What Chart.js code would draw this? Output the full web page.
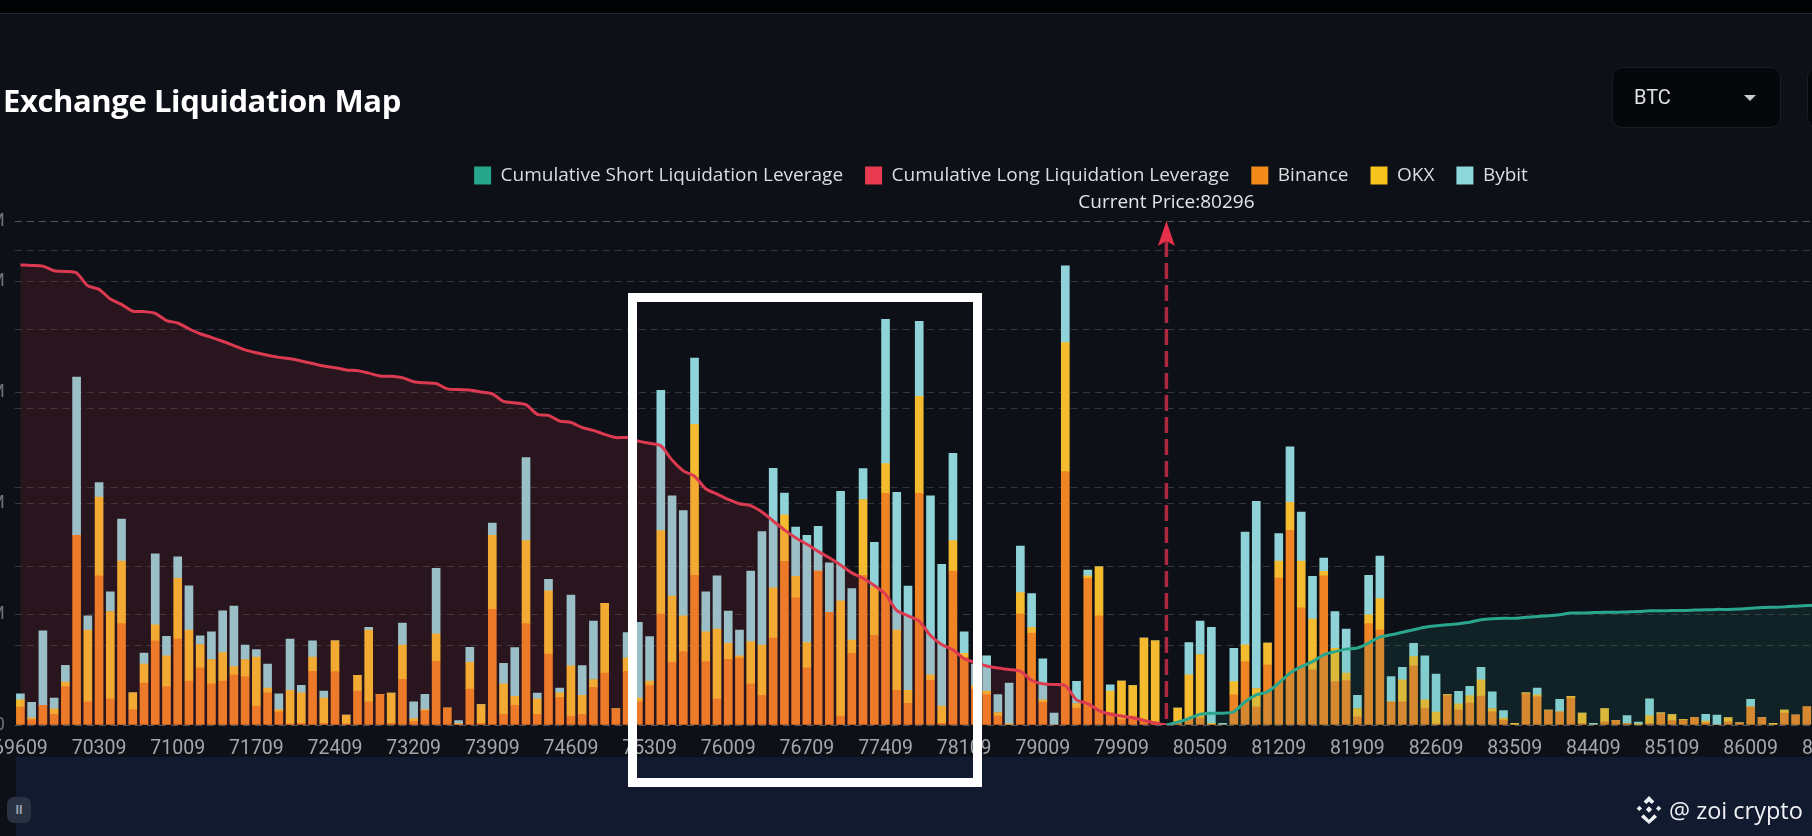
<!DOCTYPE html>
<html><head><meta charset="utf-8">
<script src="https://cdn.jsdelivr.net/npm/chart.js@4"></script>
<style>
html,body{margin:0;padding:0;width:1812px;height:836px;overflow:hidden;background:#0d1017;font-family:"Open Sans",sans-serif}
#wrap{position:relative;width:1812px;height:836px;overflow:hidden}
#topbar{position:absolute;left:0;top:0;width:100%;height:13px;background:#020305;border-bottom:1px solid #23262c}
#strip{position:absolute;left:16px;right:0;top:757px;height:79px;background:#111a2e}
canvas{position:absolute;left:-18.6px;top:0}
#title{position:absolute;left:3px;top:78px;font-size:31px;font-weight:700;color:#fff;line-height:44px;letter-spacing:-.4px;white-space:nowrap}
#sel{position:absolute;left:1613px;top:68px;width:167px;height:59px;background:#06070b;border-radius:9px;box-shadow:0 0 0 1px #181b22;color:#dfe1e6;font:20px Roboto,sans-serif;line-height:59px;text-indent:21px}
#sel i{position:absolute;left:131px;top:27px;width:0;height:0;border-left:6px solid transparent;border-right:6px solid transparent;border-top:6px solid #c9ccd2}
#sel2{position:absolute;left:1808px;top:68px;width:40px;height:59px;background:#06070b;border-radius:9px;box-shadow:0 0 0 1px #181b22}
#frame{position:absolute;left:628px;top:293px;width:336px;height:476px;border:9px solid #fff;pointer-events:none}
#pause{position:absolute;left:7px;top:797px;width:24px;height:26px;border-radius:7px;background:#2a3143;color:#9ea4b2;font:700 12px Roboto;line-height:26px;text-align:center}
#wm{position:absolute;left:1634px;top:790px;height:40px;display:flex;align-items:center;color:#eef0f3;font-size:23.5px;white-space:nowrap}
#wm svg{margin-right:5px}
</style></head>
<body><div id="wrap">
<div id="strip"></div>
<canvas id="c" width="2040" height="836"></canvas>
<div id="topbar"></div>
<div id="title">Exchange Liquidation Map</div>
<div id="sel">BTC<i></i></div><div id="sel2"></div>
<div id="frame"></div>
<div id="pause">II</div>
<div id="wm"><svg width="30" height="30" viewBox="0 0 28 28" fill="#eef0f3"><path d="M14 1l5 5-2.5 2.5L14 6l-2.5 2.5L9 6zM5 10l2.5 2.5L5 15l-2.5-2.5zM23 10l2.5 2.5L23 15l-2.5-2.5zM14 10.500l3 3-3 3-3-3zM9 18l5 5 5-5 2.500 2.500L14 27l-7.500-6.500z"/></svg><span>@ zoi crypto</span></div>
</div>
<script>
const tickLabels=["69609","70309","71009","71709","72409","73209","73909","74609","75309","76009","76709","77409","78109","79009","79909","80509","81209","81909","82609","83509","84409","85109","86009","86809"];
const binance=[50,15,55,30,107,530,65,417,73,283,43,117,235,107,240,123,160,115,123,140,135,53,90,37,3,5,150,5,149,3,95,65,85,5,127,10,40,178,47,2,100,5,323,30,55,283,30,198,77,25,30,105,145,45,
150,65,110,310,175,205,418,177,73,183,187,115,83,243,457,355,160,430,315,25,200,418,250,647,97,60,647,125,5,430,190,100,85,25,0,310,257,63,0,708,47,410,305,35,15,25,10,10,0,8,15,20,2,
0,84,177,51,168,411,544,327,154,417,121,124,23,283,266,65,65,165,47,3,82,42,61,81,37,14,0,87,79,40,37,75,5,0,9,12,5,0,5,31,12,14,21,6,0,9,6,51,21,0,33,28,51];
const okx=[20,5,0,15,13,0,200,220,244,175,47,53,45,86,170,142,65,68,79,23,48,137,13,6,94,85,40,70,86,25,44,200,0,84,96,8,3,77,0,2,75,52,207,85,25,232,43,177,13,140,53,22,195,0,
37,10,13,233,185,100,422,83,195,45,6,118,140,140,130,60,70,0,0,322,37,212,135,83,168,37,271,15,48,85,10,10,10,10,3,60,16,7,0,360,13,7,137,60,108,85,233,225,0,39,125,177,3,
0,37,47,51,61,47,78,131,142,12,93,21,23,25,87,0,61,26,23,33,3,17,21,45,9,5,5,3,5,2,0,5,28,0,37,0,0,3,21,3,17,2,0,5,0,12,0,0,0,5,9,0,0,34,0];
const bybit=[17,43,208,30,47,442,40,40,55,117,0,31,198,55,60,124,24,77,117,169,40,21,67,44,143,21,45,20,0,0,0,8,0,0,62,47,43,183,0,8,42,0,34,57,136,232,16,32,13,198,83,163,0,0,
71,212,124,392,280,294,185,112,149,90,72,197,317,334,61,138,300,125,138,306,144,86,125,403,385,291,210,500,396,244,60,60,98,50,114,130,94,115,33,215,62,16,0,17,0,0,0,0,0,0,90,93,268,
5,93,315,523,0,77,155,137,119,37,103,123,37,110,119,70,35,37,123,106,0,35,26,35,47,21,0,0,19,0,35,0,0,5,0,0,21,5,47,0,0,0,0,19,28,0,0,21,0,0,0,0];
const longCumulative=[1285,1284,1282,1269,1267,1263,1227,1217,1190,1175,1156,1155,1150,1130,1123,1107,1093,1083,1072,1060,1048,1040,1033,1027,1023,1017,1010,1003,998,992,990,983,975,974,970,959,956,954,939,937,936,930,925,904,900,895,868,865,849,845,831,823,812,803,803,793,787,780,740,710,695,660,645,630,618,613,595,570,545,523,505,485,467,447,425,410,390,365,320,305,290,250,225,210,185,175,165,159,155,150,125,115,113,110,70,60,40,30,25,20,13,5,0];
const shortCumulative=[0,8,18,30,33,33,37,65,84,93,117,145,163,177,196,205,212,215,229,246,252,259,266,273,277,280,283,287,294,297,298,298,301,303,305,308,313,313,314,315,315,316,317,319,319,320,320,321,322,323,323,324,326,328,329,330,332,334,335,336];
const currentPriceIndex=102;
const currentPriceLabel="Current Price:80296";
const seriesColors={short:"#2aa68d",long:"#dc3a50",binance:"#ee8424",okx:"#f4bb2e",bybit:"#8fd3d8"};
const legendColors=["#26a68b","#e83a50","#f28a1c","#f8c31d","#8cd8da"];
const slotCount=178;
const categories=Array.from({length:slotCount},(_,i)=>i%7===0&&tickLabels[i/7]?tickLabels[i/7]:"");
const LEGEND_EXTRA=26;
const legendGap={id:"legendGap",beforeInit(chart){const fit=chart.legend.fit;chart.legend.fit=function(){fit.call(this);this.height+=LEGEND_EXTRA;};}};
const priceMarker={id:"priceMarker",afterDatasetsDraw(chart){
  const {ctx,scales:{x,yA}}=chart;const px=x.getPixelForValue(currentPriceIndex);
  const top=yA.top,bottom=yA.bottom;
  ctx.save();
  ctx.strokeStyle="rgba(218,48,72,.78)";ctx.lineWidth=3.5;ctx.setLineDash([16,6]);
  ctx.beginPath();ctx.moveTo(px,top+20);ctx.lineTo(px,bottom);ctx.stroke();ctx.setLineDash([]);
  ctx.fillStyle="#e5304a";ctx.beginPath();ctx.moveTo(px,top);ctx.lineTo(px+8.5,top+25);ctx.lineTo(px,top+20);ctx.lineTo(px-8.5,top+25);ctx.closePath();ctx.fill();
  ctx.fillStyle="#e4e5e8";ctx.font='500 19px "Open Sans",sans-serif';ctx.textAlign="center";ctx.textBaseline="middle";
  ctx.fillText(currentPriceLabel,px,202.5);
  ctx.restore();
}};
new Chart(document.getElementById("c"),{
  type:"bar",
  data:{labels:categories,datasets:[
    {type:"line",label:"Cumulative Short Liquidation Leverage",data:Array(currentPriceIndex).fill(null).concat(shortCumulative),yAxisID:"yB",order:0,borderColor:seriesColors.short,backgroundColor:"rgba(39,165,139,.12)",borderWidth:3,pointRadius:0,tension:.25,fill:"origin",spanGaps:false},
    {type:"line",label:"Cumulative Long Liquidation Leverage",data:longCumulative,yAxisID:"yB",order:0,borderColor:seriesColors.long,backgroundColor:"rgba(230,58,80,.13)",borderWidth:3,pointRadius:0,tension:.25,fill:"origin",spanGaps:false},
    {label:"Binance",data:binance,backgroundColor:seriesColors.binance,stack:"s",yAxisID:"yA",order:1,barThickness:8},
    {label:"OKX",data:okx,backgroundColor:seriesColors.okx,stack:"s",yAxisID:"yA",order:1,barThickness:8},
    {label:"Bybit",data:bybit,backgroundColor:seriesColors.bybit,stack:"s",yAxisID:"yA",order:1,barThickness:8}
  ]},
  options:{
    responsive:false,animation:false,
    layout:{autoPadding:false,padding:{top:144,left:0,right:0,bottom:0}},
    plugins:{
      tooltip:{enabled:false},
      legend:{display:true,position:"top",align:"center",labels:{color:"#dcdde0",font:{family:'"Open Sans",sans-serif',size:19},boxWidth:17,boxHeight:18,padding:22,
        generateLabels:ch=>Chart.defaults.plugins.legend.labels.generateLabels(ch).map((it,i)=>({...it,fillStyle:legendColors[i],strokeStyle:legendColors[i],lineWidth:0}))}}
    },
    scales:{
      x:{stacked:true,offset:true,grid:{display:false,drawTicks:false},border:{display:false},
        ticks:{autoSkip:false,maxRotation:0,minRotation:0,padding:12,color:"#a3a6ac",font:{family:"Roboto,sans-serif",size:19.5}},
        afterFit(s){s.height=111;}},
      yA:{position:"left",stacked:true,min:0,max:1408,grid:{color:"rgba(255,255,255,.16)",drawTicks:false},border:{display:false,dash:[7,5]},
        ticks:{stepSize:309.4,padding:10,color:"#6f7278",font:{family:"Roboto,sans-serif",size:18},callback:v=>v===0?"0":Math.round(v)+"M"},
        afterFit(s){s.width=15;}},
      yB:{position:"right",min:0,max:1408,grid:{color:"rgba(255,255,255,.16)",drawTicks:false},border:{display:false,dash:[7,5]},
        ticks:{stepSize:221,display:false},afterFit(s){s.width=0;}}
    }
  },
  plugins:[legendGap,priceMarker]
});
</script></body></html>
